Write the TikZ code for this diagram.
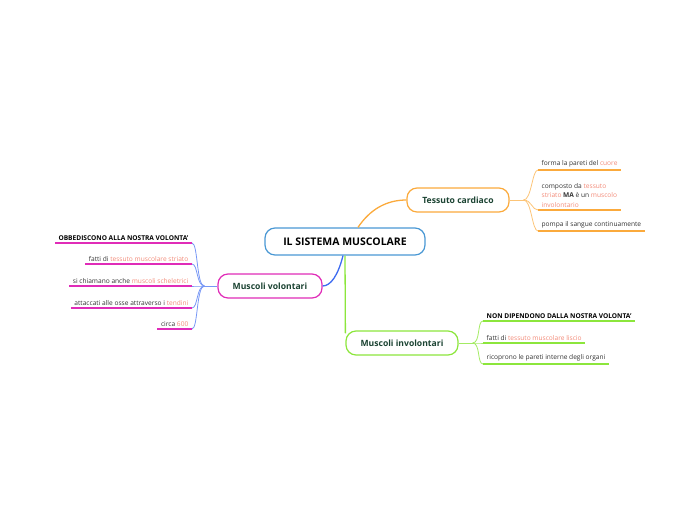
\documentclass[tikz,border=0pt]{standalone}
\usepackage{fontspec}
\setmainfont{Open Sans}
\definecolor{cblue}{HTML}{4A98D4}
\definecolor{vblue}{HTML}{3D6BF0}
\definecolor{corange}{HTML}{FBAA3C}
\definecolor{cmag}{HTML}{E02CB8}
\definecolor{cgreen}{HTML}{8CE63C}
\definecolor{ctext}{HTML}{1B4332}
\definecolor{salmon}{HTML}{F28A78}
\definecolor{leafgray}{HTML}{333333}
\newcommand{\hl}[1]{\textcolor{salmon}{#1}}
\begin{document}
\begin{tikzpicture}[x=1pt,y=-1pt,
 topic/.style={draw,rounded corners=10pt,line width=1.2pt,fill=white,minimum height=24pt,inner sep=0pt,font=\fontsize{8.6}{10}\selectfont\bfseries,text=ctext},
 leaf/.style={inner xsep=3.5pt,inner ysep=2.5pt,font=\fontsize{6.6}{9.5}\selectfont,text=leafgray},
 ul/.style={line width=1.6pt},
 br/.style={line width=0.8pt},
 mainbr/.style={line width=1.3pt}]
\useasboundingbox (0,0) rectangle (697,520);
% topics
\node[topic,draw=cblue,minimum width=160pt,minimum height=27pt,font=\fontsize{10.5}{12}\selectfont\bfseries,text=black] (cen) at (345,241.5) {IL SISTEMA MUSCOLARE};
\node[topic,draw=corange,minimum width=102pt] (tc) at (458,200) {Tessuto cardiaco};
\node[topic,draw=cmag,minimum width=104pt] (vol) at (270,286) {Muscoli volontari};
\node[topic,draw=cgreen,minimum width=112pt] (inv) at (402,343) {Muscoli involontari};
% main connectors
\draw[mainbr,corange] ([xshift=13pt]cen.north) .. controls +(12,-18) and +(-20,0) .. (tc.west);
\draw[mainbr,vblue] ([xshift=-2pt]cen.south) .. controls +(-5,20) and +(8,0) .. (vol.east);
\draw[mainbr,cgreen] (cen.south) -- ([yshift=-3pt]inv.north west);
% Tessuto cardiaco leaves
\node[leaf,anchor=south west] (t1) at (538,170) {forma la pareti del \hl{cuore}};
\node[leaf,anchor=south west,align=left] (t2) at (538,210) {composto da \hl{tessuto}\\\hl{striato} \textbf{MA} è un \hl{muscolo}\\\hl{involontario}};
\node[leaf,anchor=south west] (t3) at (538,231) {pompa il sangue continuamente};
\draw[br,corange!70] (tc.east) -- ++(14,0) coordinate (tj);
\foreach \n in {t1,t2,t3}{
  \draw[br,corange!70] (tj) .. controls +(8,0) and +(-6,0) .. (\n.south west);
  \draw[ul,corange] (\n.south west) -- (\n.south east);
}
% Muscoli volontari leaves
\node[leaf,anchor=south east,font=\fontsize{6.6}{9.5}\selectfont\bfseries,text=black] (v1) at (192,243) {OBBEDISCONO ALLA NOSTRA VOLONTA'};
\node[leaf,anchor=south east] (v2) at (192,264) {fatti di \hl{tessuto muscolare striato}};
\node[leaf,anchor=south east] (v3) at (192,286) {si chiamano anche \hl{muscoli scheletrici}};
\node[leaf,anchor=south east] (v4) at (192,308) {attaccati alle osse attraverso i \hl{tendini}};
\node[leaf,anchor=south east] (v5) at (192,329) {circa \hl{600}};
\draw[br,vblue!70] (vol.west) -- ++(-13,0) coordinate (vj);
\foreach \n in {v1,v2,v3,v4,v5}{
  \draw[br,vblue!70] (vj) .. controls +(-8,0) and +(6,0) .. (\n.south east);
  \draw[ul,cmag] (\n.south west) -- (\n.south east);
}
% Muscoli involontari leaves
\node[leaf,anchor=south west,font=\fontsize{6.6}{9.5}\selectfont\bfseries,text=black] (i1) at (483,321) {NON DIPENDONO DALLA NOSTRA VOLONTA'};
\node[leaf,anchor=south west] (i2) at (483,343) {fatti di \hl{tessuto muscolare liscio}};
\node[leaf,anchor=south west] (i3) at (483,364) {ricoprono le pareti interne degli organi};
\draw[br,cgreen!80] (inv.east) -- ++(14,0) coordinate (ij);
\foreach \n in {i1,i2,i3}{
  \draw[br,cgreen!80] (ij) .. controls +(8,0) and +(-6,0) .. (\n.south west);
  \draw[ul,cgreen] (\n.south west) -- (\n.south east);
}
\end{tikzpicture}
\end{document}
